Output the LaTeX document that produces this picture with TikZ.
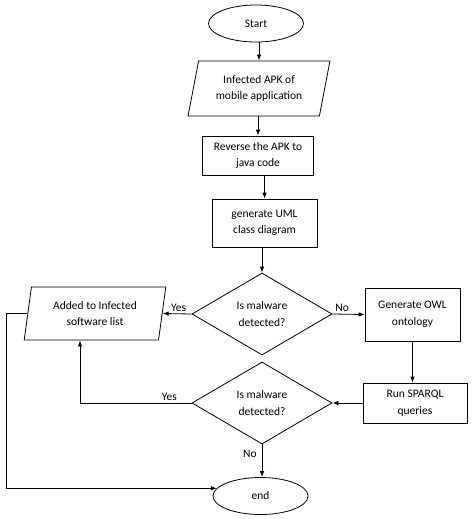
\documentclass[tikz,border=0pt]{standalone}
\usepackage{fontspec}
\setmainfont{Carlito}
\usetikzlibrary{shapes.geometric,arrows.meta,positioning,calc}

\begin{document}
\begin{tikzpicture}[
x=1pt, y=-1pt,
font=\fontsize{11.5}{16.5}\selectfont,
every node/.append style={inner sep=0pt, align=center},
terminal/.style={draw, ellipse, line width=0.8pt, minimum width=95pt, minimum height=37pt},
inout/.style={draw, trapezium, trapezium stretches=true, line width=0.8pt, minimum width=142pt},
process/.style={draw, rectangle, line width=0.8pt},
decision/.style={draw, diamond, line width=0.8pt, minimum width=140pt, minimum height=82pt},
lbl/.style={inner sep=2pt},
arr/.style={draw, line width=0.8pt, -{Latex[length=6pt,width=4.5pt]}},
]
\useasboundingbox (0,0) rectangle (474,519);
% main column
\node[terminal] (start) at (256,23.5) {Start};
\node[inout, trapezium left angle=74, trapezium right angle=106, minimum height=55pt]
	(input) at (259,88.5) {Infected APK of\\mobile application};
\node[process, minimum width=111pt, minimum height=39pt] (reverse) at (258,155.5) {Reverse the APK to\\java code};
\node[process, minimum width=105pt, minimum height=48pt] (uml) at (264.5,223) {generate UML\\class diagram};
\node[decision] (detect1) at (262,314) {Is malware\\detected?};
\node[decision] (detect2) at (262,403) {Is malware\\detected?};
\node[terminal] (end) at (260.5,496) {end};
% side nodes
\node[inout, trapezium left angle=79, trapezium right angle=101, minimum height=53pt]
	(infected) at (95,313.5) {Added to Infected\\software list};
\node[process, minimum width=95pt, minimum height=53pt] (owl) at (412.5,314.5) {Generate OWL\\ontology};
\node[process, minimum width=104pt, minimum height=40pt] (sparql) at (415,403) {Run SPARQL\\queries};
% connectors
\draw[arr] (input.north |- start.south) -- (input.north);
\draw[arr] (reverse.north |- input.south) -- (reverse.north);
\draw[arr] (uml.north |- reverse.south) -- (uml.north);
\draw[arr] (detect1.north |- uml.south) -- (detect1.north);
\draw[arr] (detect1.west) -- node[lbl, above, pos=0.45] {Yes} (infected.east);
\draw[arr] (detect1.east) -- node[lbl, above, pos=0.3] {No} (owl.west);
\draw[arr] (owl.south) -- (owl.south |- sparql.north);
\draw[arr] (sparql.west) -- (detect2.east);
\draw[arr] (detect2.west) -| node[lbl, above, pos=0.1] {Yes} ([xshift=-15pt]infected.south);
\draw[arr] (detect2.south) -- node[lbl, left=3pt, pos=0.3] {No} (detect2.south |- end.north);
\draw[arr] (infected.west) -- ++(-21,0) |- (end.170);
\end{tikzpicture}
\end{document}
